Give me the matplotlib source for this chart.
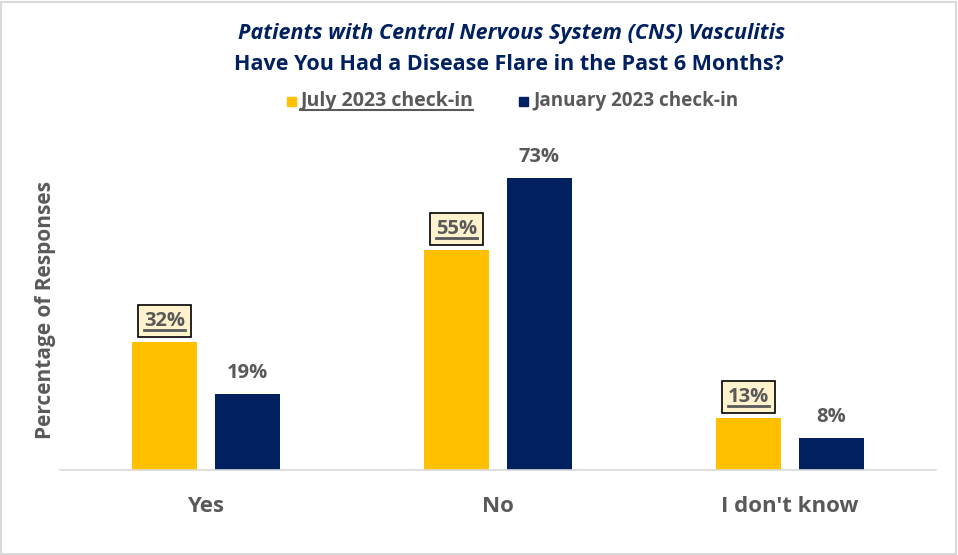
import matplotlib.pyplot as plt
from matplotlib.patches import Rectangle
from matplotlib.lines import Line2D
import numpy as np

plt.rcParams['font.family'] = ['Open Sans', 'DejaVu Sans']

categories = ['Yes', 'No', "I don't know"]
july_2023 = [32, 55, 13]
january_2023 = [19, 73, 8]
series_names = ['July 2023 check-in', 'January 2023 check-in']

YELLOW = '#FFC000'
NAVY = '#002060'
GREY = '#595959'

W, H = 958, 555
fig = plt.figure(figsize=(W / 100, H / 100), dpi=100)
ax = fig.add_axes([60 / W, 1 - 470 / H, 876 / W, (470 - 150) / H])

x = np.arange(len(categories))
bw = 0.223
off = 0.142
ax.bar(x - off, july_2023, bw, color=YELLOW)
ax.bar(x + off, january_2023, bw, color=NAVY)

ax.set_xlim(-0.5, 2.5)
ax.set_ylim(0, 80)
ax.set_yticks([])
ax.set_xticks(x)
ax.set_xticklabels(categories, fontsize=16, fontweight='bold', color=GREY)
ax.tick_params(axis='x', length=0, pad=19)
for s in ['top', 'right', 'left']:
    ax.spines[s].set_visible(False)
ax.spines['bottom'].set_color('#D9D9D9')
ax.spines['bottom'].set_linewidth(1.2)

ax.set_ylabel('Percentage of Responses', fontsize=15, fontweight='bold',
              color=GREY, labelpad=3)

underlined = []
for xi, v in zip(x, july_2023):
    t = ax.annotate(f'{v}%', (xi - off, v), xytext=(0, 8), textcoords='offset points',
                    ha='center', va='bottom', fontsize=14.5, fontweight='bold', color=GREY,
                    bbox=dict(boxstyle='square,pad=0.3', fc='#FFF2CC', ec='black', lw=1.2))
    underlined.append((t, 2))
for xi, v in zip(x, january_2023):
    ax.annotate(f'{v}%', (xi + off, v), xytext=(0, 8), textcoords='offset points',
                ha='center', va='bottom', fontsize=14.5, fontweight='bold', color=GREY)

fig.text(512 / W, 1 - 33 / H, 'Patients with Central Nervous System (CNS) Vasculitis',
         ha='center', va='center', fontsize=15.5, fontweight='bold', style='italic', color=NAVY)
fig.text(509 / W, 1 - 64 / H, 'Have You Had a Disease Flare in the Past 6 Months?',
         ha='center', va='center', fontsize=15.5, fontweight='bold', color=NAVY)

# legend drawn by hand
fig.patches.append(Rectangle((287 / W, 1 - 106 / H), 9 / W, 9 / H, color=YELLOW,
                             transform=fig.transFigure, figure=fig))
lt = fig.text(300 / W, 1 - 101 / H, series_names[0], ha='left', va='center',
              fontsize=14, fontweight='bold', color=GREY)
underlined.append((lt, 1.5))
fig.patches.append(Rectangle((519 / W, 1 - 106 / H), 9 / W, 9 / H, color=NAVY,
                             transform=fig.transFigure, figure=fig))
fig.text(533 / W, 1 - 101 / H, series_names[1], ha='left', va='center',
         fontsize=13.6, fontweight='bold', color=GREY)

# outer border
fig.patches.append(Rectangle((1 / W, 1 / H), (W - 3) / W, (H - 3) / H, fill=False,
                             ec='#D9D9D9', lw=1.5, transform=fig.transFigure, figure=fig))

# underline texts
fig.canvas.draw()
r = fig.canvas.get_renderer()
for t, lw in underlined:
    bb = t.get_window_extent(r)
    y = bb.y0 + 1
    fig.lines.append(Line2D([bb.x0 / W, bb.x1 / W], [y / H, y / H], color=GREY, lw=lw,
                            transform=fig.transFigure))

fig.savefig('out.png', dpi=100)
